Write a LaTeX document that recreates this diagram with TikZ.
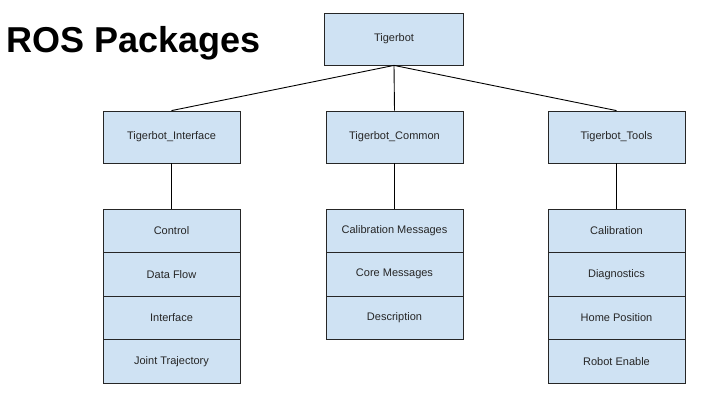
\documentclass[tikz,border=0pt]{standalone}
\usepackage{fontspec}
\setmainfont{Liberation Sans}
\begin{document}
\begin{tikzpicture}[x=1pt,y=-1pt,
  box/.style={draw=black!85,line width=0.8pt,fill=boxblue,rectangle,minimum width=137pt,minimum height=52pt,inner sep=0pt,font=\fontsize{11}{13}\selectfont,text=black!85},
  cell/.style={box,minimum height=43.5pt},
  conn/.style={draw=black,line width=0.9pt}]
\definecolor{boxblue}{HTML}{CFE2F3}
\useasboundingbox (0,0) rectangle (720,405);
\node[anchor=base west,font=\fontsize{36}{40}\selectfont\bfseries,inner sep=0pt] (title) at (6,52) {ROS Packages};
\node[box,minimum width=139pt] (root) at (394,39) {Tigerbot};
\node[box] (iface) at (171.5,137) {Tigerbot\_Interface};
\node[box] (common) at (394.5,137) {Tigerbot\_Common};
\node[box] (tools) at (616.5,137) {Tigerbot\_Tools};
% interface column
\node[cell] (c1) at (171.5,230.75) {Control};
\node[cell] (c2) at (171.5,274.25) {Data Flow};
\node[cell] (c3) at (171.5,317.75) {Interface};
\node[cell] (c4) at (171.5,361.25) {Joint Trajectory};
% common column
\node[cell] (m1) at (394.5,230.75) {Calibration Messages};
\node[cell] (m2) at (394.5,274.25) {Core Messages};
\node[cell] (m3) at (394.5,317.75) {Description};
% tools column
\node[cell] (t1) at (616.5,230.75) {Calibration};
\node[cell] (t2) at (616.5,274.25) {Diagnostics};
\node[cell] (t3) at (616.5,317.75) {Home Position};
\node[cell] (t4) at (616.5,361.25) {Robot Enable};
% connectors
\draw[conn] (root.south) -- (iface.north);
\draw[conn] (root.south) -- (common.north);
\draw[conn] (root.south) -- (tools.north);
\draw[conn] (iface.south) -- (c1.north);
\draw[conn] (common.south) -- (m1.north);
\draw[conn] (tools.south) -- (t1.north);
\end{tikzpicture}
\end{document}
